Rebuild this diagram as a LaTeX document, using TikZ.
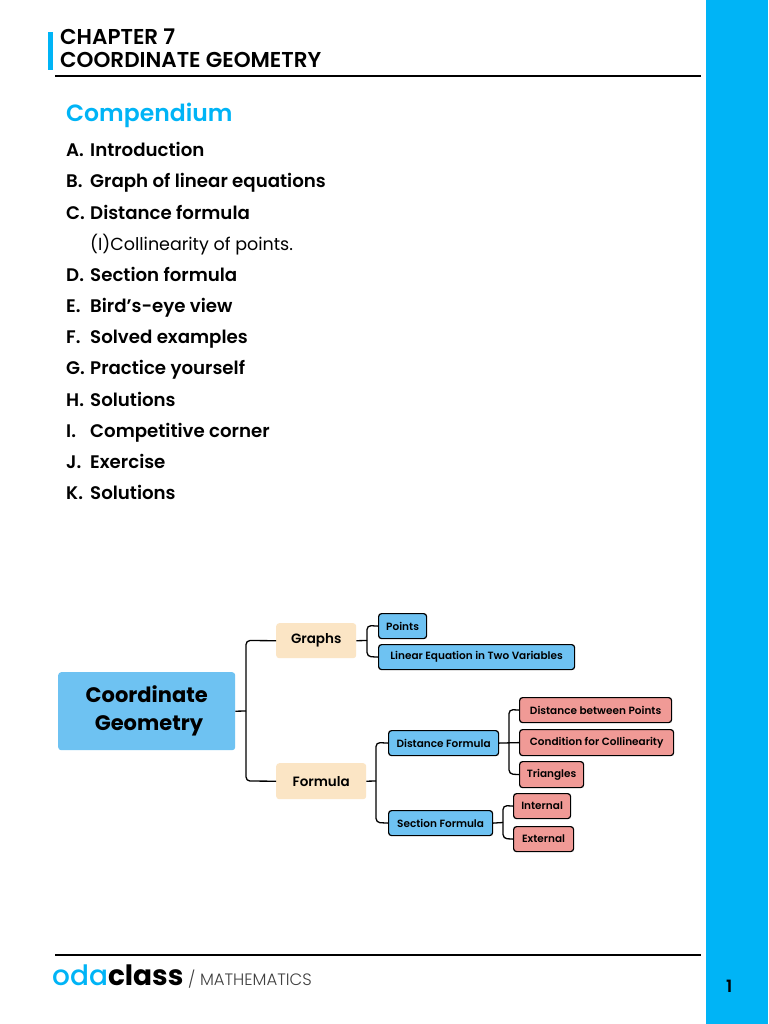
\documentclass[tikz,border=0pt]{standalone}
\usepackage{fontspec}
\setmainfont{Poppins}
\newfontfamily\popsb{Poppins SemiBold}
\newfontfamily\poplt{Poppins Light}
\newfontfamily\popmd{Poppins Medium}
\definecolor{cyanb}{HTML}{00B4F6}
\definecolor{rootb}{HTML}{6EC2F2}
\definecolor{tan}{HTML}{FBE5C5}
\definecolor{leafb}{HTML}{6EC2F2}
\definecolor{pink}{HTML}{F09A96}
\begin{document}
\begin{tikzpicture}[x=1pt,y=-1pt,
 box/.style={anchor=north west,inner sep=0pt,rounded corners=3pt},
 leaf/.style={box,draw=black,line width=1.2pt,font=\popsb\fontsize{10.5}{12}\selectfont},
 mid/.style={box,fill=tan,font=\popsb\fontsize{13.5}{16}\selectfont},
 link/.style={line width=1.3pt,rounded corners=4pt},
 item/.style={anchor=base west,font=\popsb\fontsize{18.2}{20}\selectfont,inner sep=0pt}]
\useasboundingbox (0,0) rectangle (768,1024);
\fill[white] (0,0) rectangle (768,1024);
\fill[cyanb] (706,0) rectangle (768,1024);
\fill[cyanb] (48,32) rectangle (53,70);
\node[item,font=\popsb\fontsize{21.5}{22}\selectfont] (h1) at (60,45) {CHAPTER 7};
\node[item,font=\popsb\fontsize{21.5}{22}\selectfont] (h2) at (60,68) {COORDINATE GEOMETRY};
\draw[line width=1.6pt] (55,76) -- (701,76);
\node[item,font=\popsb\fontsize{23.5}{26}\selectfont,text=cyanb] (cp) at (66,122) {Compendium};
\foreach \l/\t/\y in {A./Introduction/151,B./Graph of linear equations/182,C./Distance formula/213,D./Section formula/275,E./Bird’s-eye view/306,F./Solved examples/337,G./Practice yourself/368,H./Solutions/400,I./Competitive corner/431,J./Exercise/462,K./Solutions/493}{
 \node[item] at (66,\y+6) {\l};
 \node[item] at (90,\y+6) {\t};}
\node[item,font=\fontsize{17.5}{20}\selectfont] (col) at (90,250) {(I)Collinearity of points.};
% mind map
\node[box,fill=rootb,minimum width=177pt,minimum height=78pt,font=\bfseries\fontsize{21}{28}\selectfont,align=center] (root) at (58,672) {Coordinate\\\ Geometry};
\node[mid,minimum width=80pt,minimum height=35pt] (gr) at (276,623) {Graphs};
\node[mid,minimum width=90pt,minimum height=36pt] (fo) at (276,763) {Formula};
\node[leaf,fill=leafb,minimum width=48pt,minimum height=25pt] (pt) at (378,613) {Points};
\node[leaf,fill=leafb,minimum width=196pt,minimum height=25pt] (le) at (378,644) {Linear Equation in Two Variables};
\node[leaf,fill=leafb,minimum width=110pt,minimum height=25pt] (df) at (388,730) {Distance Formula};
\node[leaf,fill=leafb,minimum width=104pt,minimum height=25pt] (sf) at (388,810) {Section Formula};
\node[leaf,fill=pink,minimum width=152pt,minimum height=25pt] (db) at (519,697) {Distance between Points};
\node[leaf,fill=pink,minimum width=154pt,minimum height=26pt] (cc) at (519,729) {Condition for Collinearity};
\node[leaf,fill=pink,minimum width=64pt,minimum height=26pt] (tr) at (519,761) {Triangles};
\node[leaf,fill=pink,minimum width=57pt,minimum height=25pt] (in) at (513,793) {Internal};
\node[leaf,fill=pink,minimum width=60pt,minimum height=25pt] (ex) at (513,826) {External};
\draw[link] (root.east) -- (246,711);
\draw[link] (gr.west) -- (246,640.5) -- (246,781) -- (fo.west);
\draw[link] (gr.east) -- (367,640.5);
\draw[link] (pt.west) -- (367,625.5) -- (367,656.5) -- (le.west);
\draw[link] (fo.east) -- (376,781);
\draw[link] (df.west) -- (376,742.5) -- (376,822.5) -- (sf.west);
\draw[link] (df.east) -- (cc.west);
\draw[link] (db.west) -- (509,709.5) -- (509,774) -- (tr.west);
\draw[link] (sf.east) -- (503,822.5);
\draw[link] (in.west) -- (503,805.5) -- (503,838.5) -- (ex.west);
% footer
\draw[line width=1.5pt] (55,955) -- (701,955);
\node[item,font=\fontsize{28}{30}\selectfont] (logo) at (52,985) {\textcolor{cyanb}{\popmd oda}{\bfseries class}};
\node[item,font=\poplt\fontsize{16.5}{18}\selectfont,text=black!75] (mth) at (188,985) {/ MATHEMATICS};
\node[item,font=\popsb\fontsize{17}{18}\selectfont] (pg) at (726,992) {1};
\end{tikzpicture}
\end{document}
